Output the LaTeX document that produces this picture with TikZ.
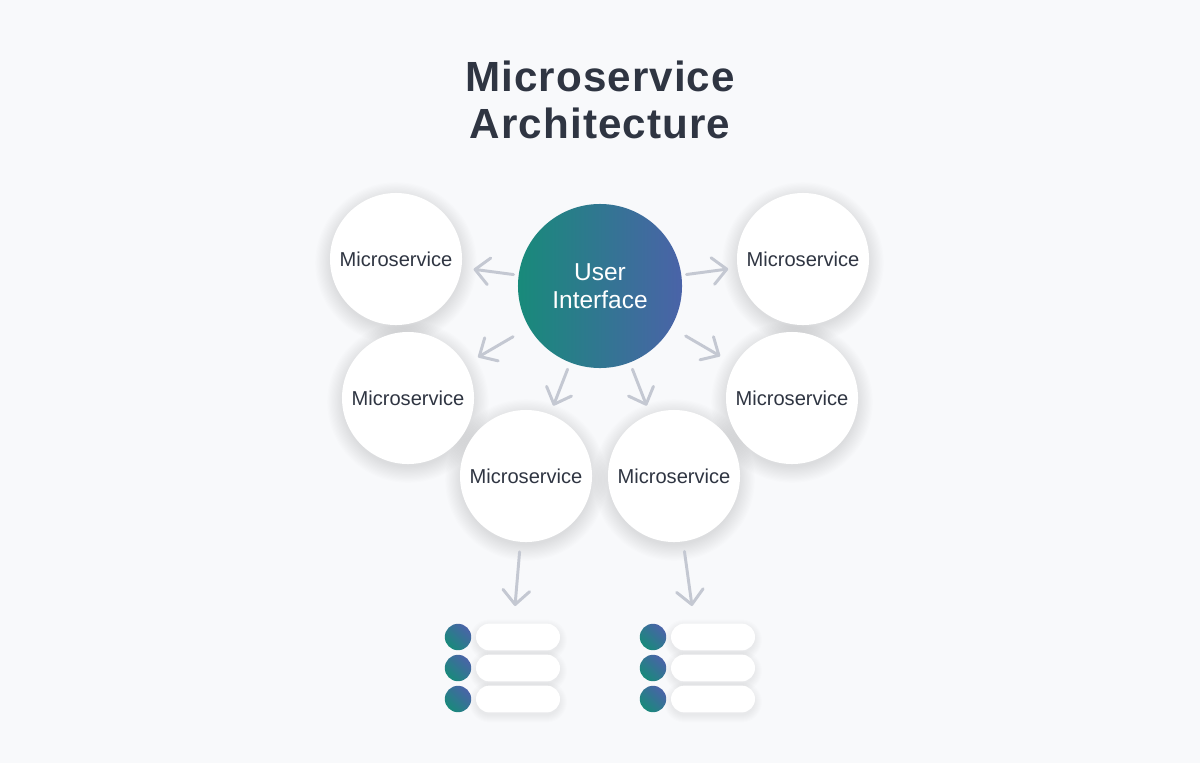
\documentclass[tikz,border=0pt]{standalone}
\usepackage{fontspec}
\setmainfont{Liberation Sans}
\usetikzlibrary{arrows.meta}

\definecolor{bgcol}{HTML}{F8F9FB}
\definecolor{txtcol}{HTML}{2F3542}
\definecolor{uigreen}{HTML}{188A7A}
\definecolor{uiblue}{HTML}{4A63A8}
\definecolor{arrowcol}{HTML}{C4C8D2}

\tikzset{
  service/.style={circle, fill=white, minimum size=3.3cm, inner sep=0pt,
    text=txtcol, font=\fontsize{14.3}{17}\selectfont},
  userif/.style={circle, left color=uigreen, right color=uiblue, minimum size=4.1cm,
    inner sep=0pt, text=white, align=center, font=\fontsize{17.4}{20}\selectfont},
  link/.style={draw=arrowcol, line width=2.1pt, line cap=round, line join=round,
    -{Straight Barb[length=10pt,width=19pt,round]}},
  dbdot/.style={circle, top color=uiblue, bottom color=uigreen, shading angle=-45,
    minimum size=0.66cm, inner sep=0pt},
  dbrow/.style={rectangle, rounded corners=0.335cm, fill=white, minimum width=2.1cm,
    minimum height=0.67cm, inner sep=0pt},
}

% soft shadow under a circle: centre x, centre y, radius (px)
\newcommand{\circshadow}[3]{%
  \foreach \k in {1,...,14}
    \fill[black, opacity=0.006] (#1,#2+4) circle[radius={(#3-2+1.2*\k)*0.025cm}];
}

\begin{document}
\begin{tikzpicture}[x=0.025cm, y=-0.025cm]
    \fill[bgcol] (0,0) rectangle (1200,763);
    \useasboundingbox (0,0) rectangle (1200,763);

    % title
    \node[text=txtcol, align=center, font=\fontsize{30}{33}\selectfont\bfseries\addfontfeatures{LetterSpace=2.5}] (title) at (600,100) {Microservice\\Architecture};

    % shadows
    \circshadow{396}{259}{66}
    \circshadow{803}{259}{66}
    \circshadow{408}{398}{66}
    \circshadow{792}{398}{66}
    \circshadow{526}{476}{66}
    \circshadow{674}{476}{66}

    % services
    \node[userif] (ui) at (600,286) {User\\Interface};
    \node[service] (tl) at (396,259) {Microservice};
    \node[service] (tr) at (803,259) {Microservice};
    \node[service] (ml) at (408,398) {Microservice};
    \node[service] (mr) at (792,398) {Microservice};
    \node[service] (bl) at (526,476) {Microservice};
    \node[service] (br) at (674,476) {Microservice};

    % arrows from the interface
    \draw[link, shorten <=3.5pt, shorten >=8.5pt] (ui) -- (tl);
    \draw[link, shorten <=3.5pt, shorten >=6.5pt] (ui) -- (tr);
    \draw[link, shorten <=13pt, shorten >=10.5pt] (ui) -- (ml);
    \draw[link, shorten <=12pt, shorten >=12pt] (ui) -- (mr);
    \draw[link, shorten <=5pt, shorten >=6.5pt] (ui) -- (bl);
    \draw[link, shorten <=5pt, shorten >=6.5pt] (ui) -- (br);

    % databases
    \foreach \gx/\side in {458/l, 653/r} {
      \foreach \ry [count=\i] in {637,668,699} {
        \foreach \k in {1,...,8}
          \fill[black, opacity=0.007, rounded corners={(12.5+\k)*0.025cm}]
            (\gx+19-\k,\ry-12.5-\k+3) rectangle (\gx+101+\k,\ry+12.5+\k+3);
        \node[dbdot] (db\side\i) at (\gx,\ry) {};
        \node[dbrow] (row\side\i) at (\gx+60,\ry) {};
      }
    }
    \coordinate (dbl) at (515,606);
    \coordinate (dbr) at (692,606);

    \draw[link, shorten <=7pt] (bl) -- (dbl);
    \draw[link, shorten <=7pt] (br) -- (dbr);
\end{tikzpicture}
\end{document}
